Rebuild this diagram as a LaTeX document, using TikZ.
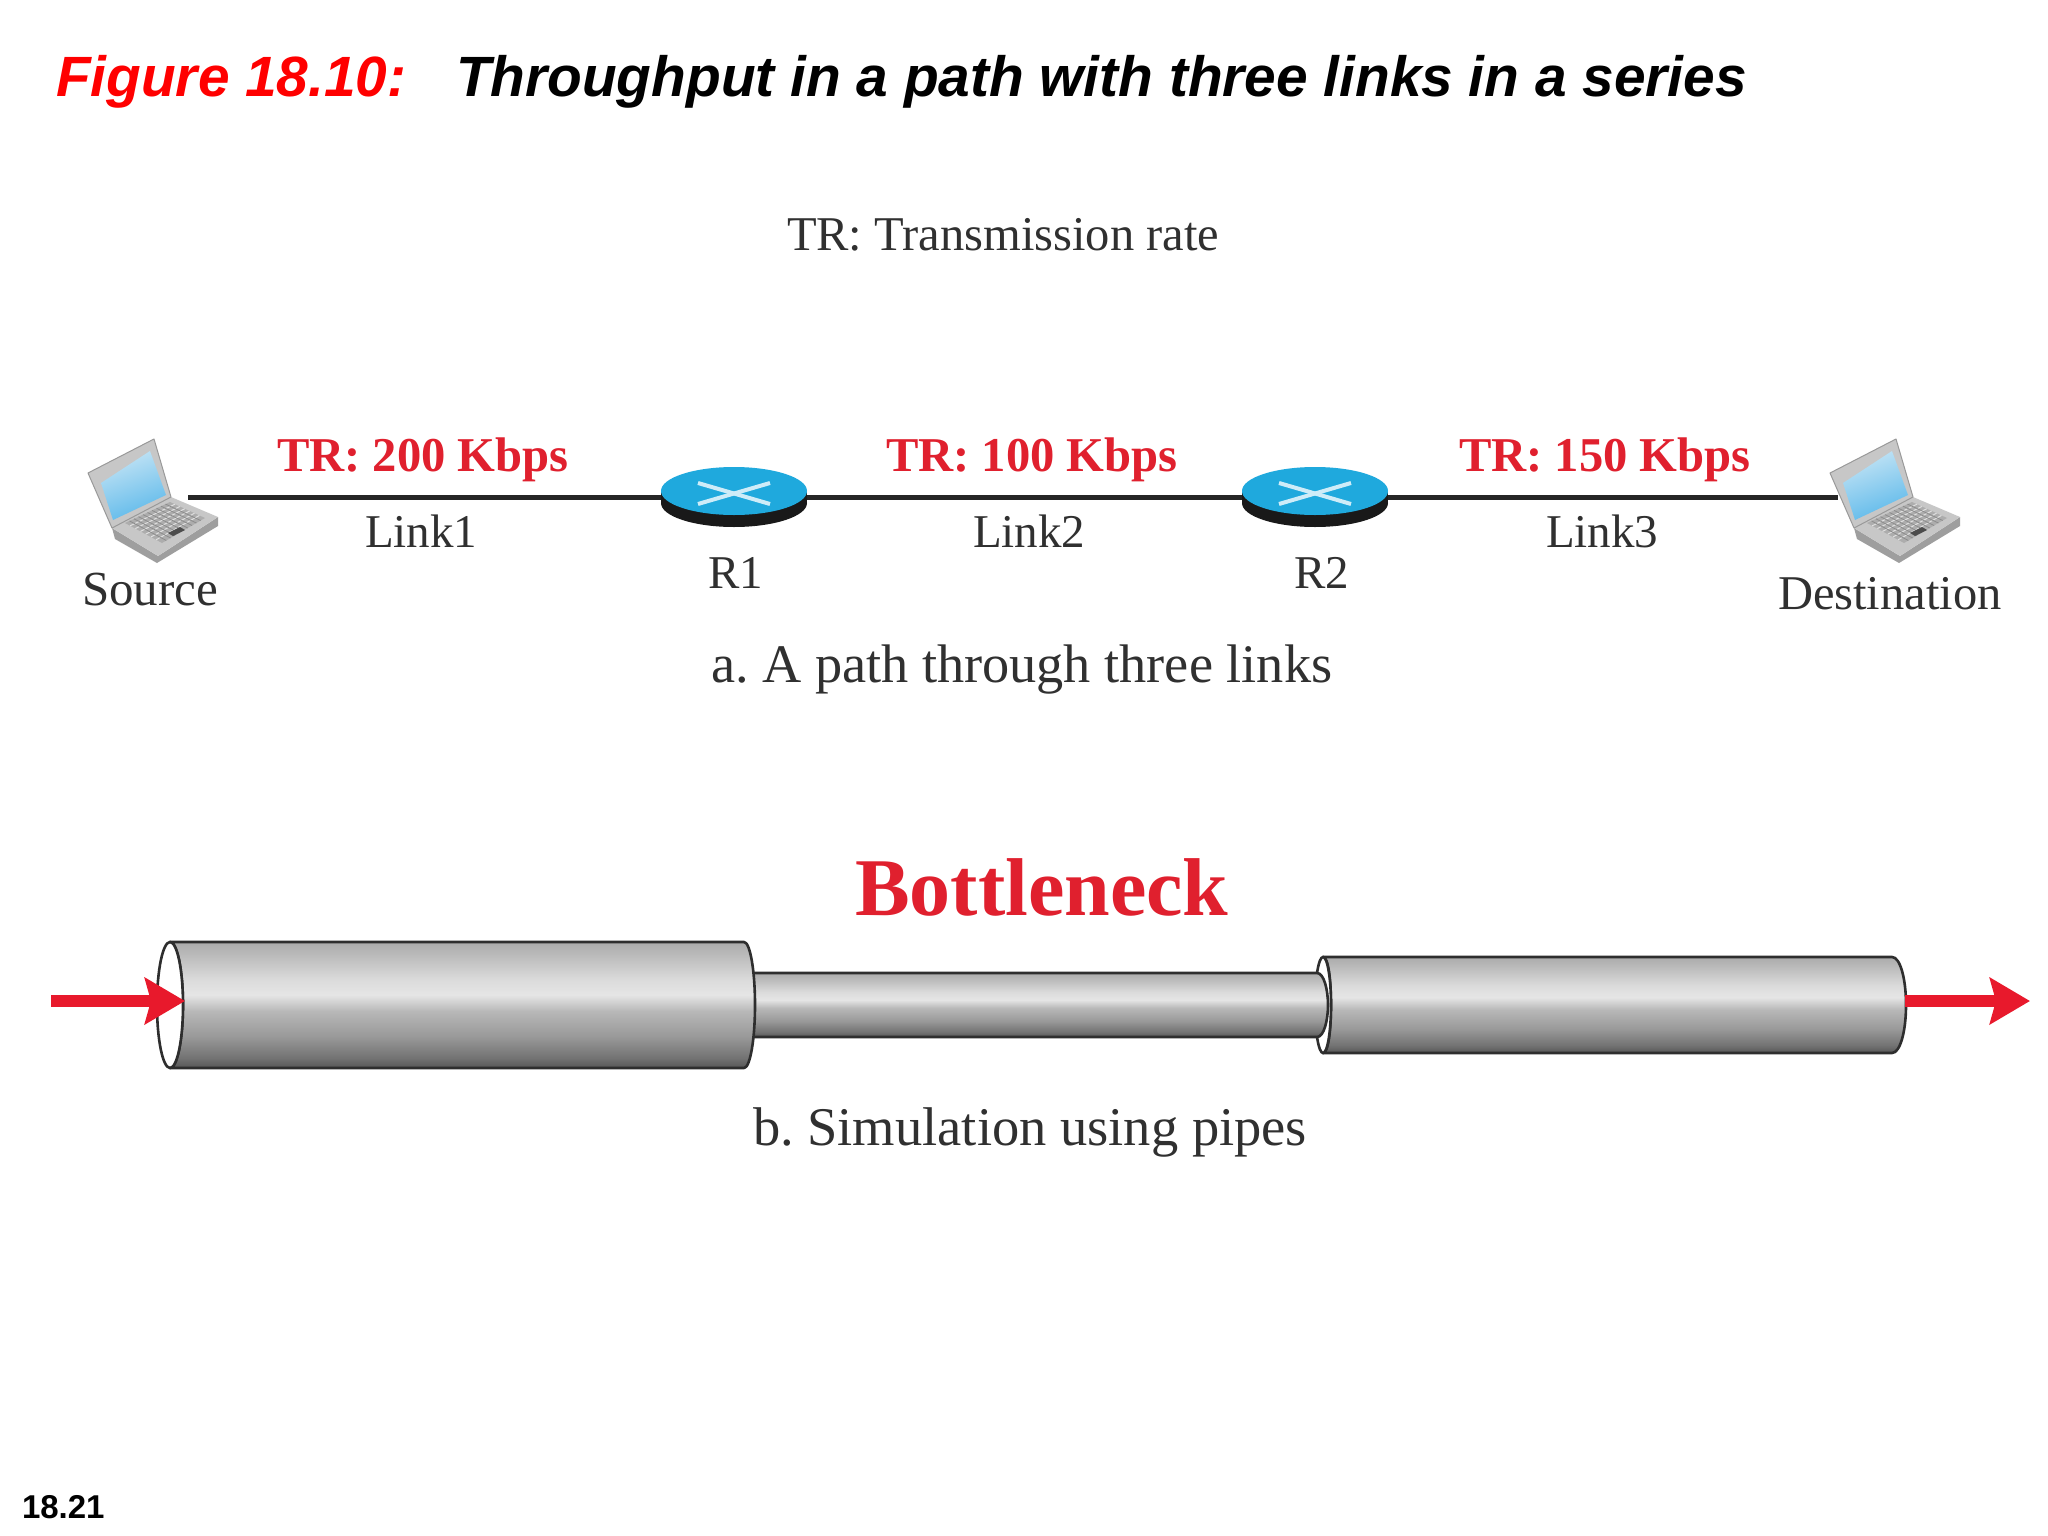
\documentclass[tikz,border=0pt]{standalone}
\usepackage{fontspec}
\setmainfont{Liberation Serif}
\setsansfont{Liberation Sans}
\usetikzlibrary{arrows.meta,shapes.geometric}
\definecolor{figred}{HTML}{E0202E}
\definecolor{titlered}{HTML}{FF0000}
\definecolor{inkgrey}{HTML}{303030}
\definecolor{pipeline}{HTML}{2E2E2E}
\definecolor{arrowred}{HTML}{E8192C}
\definecolor{routerblue}{HTML}{1FA9DD}
\definecolor{screenlight}{HTML}{C4E4F5}
\definecolor{screendeep}{HTML}{5DB9EA}
\pgfdeclareverticalshading{pipeshade}{100bp}{
 color(0bp)=(black!66!white);
 color(25bp)=(black!66!white);
 color(29bp)=(black!55!white);
 color(37.5bp)=(black!40!white);
 color(47.5bp)=(black!28!white);
 color(54bp)=(black!10!white);
 color(60bp)=(black!14!white);
 color(70bp)=(black!27!white);
 color(75bp)=(black!33!white);
 color(100bp)=(black!33!white)}
\tikzset{
 x=1pt,y=-1pt,
 txt/.style={anchor=base west,inner sep=0pt,outer sep=0pt,text=inkgrey},
 ratelabel/.style={txt,text=figred,font=\fontsize{48.6}{51}\selectfont\bfseries},
 linklabel/.style={txt,font=\fontsize{47}{49}\selectfont},
 titletxt/.style={txt,font=\fontsize{56.8}{60}\selectfont\sffamily\bfseries\itshape},
 linkline/.style={draw=black!85,line width=5pt},
 pipe/.style={shading=pipeshade,draw=pipeline,line width=2.6pt,line join=round},
 flow/.style={draw=arrowred,line width=12pt,-{Stealth[length=40pt,width=46pt,inset=6pt]}},
 routertop/.style={ellipse,fill=routerblue,minimum width=146pt,minimum height=48pt,inner sep=0pt},
 routerbase/.style={ellipse,fill=black!90,minimum width=146pt,minimum height=48pt,inner sep=0pt},
 laptop/.pic={
  \fill[black!38] (24,90) -- (27,101) -- (69,125) -- (130,88) -- (130,79) -- (70,118) -- cycle;
  \fill[black!22] (24,90) -- (83,59) -- (130,79) -- (70,118) -- cycle;
  \fill[black!32] (37,85) -- (82,64) -- (117,80) -- (74,105) -- cycle;
  \foreach \t in {0.14,0.28,...,0.9}
   \draw[black!12,line width=1pt] ({37+\t*37},{85+\t*20}) -- ({82+\t*35},{64+\t*16});
  \foreach \t in {0.1,0.2,...,0.95}
   \draw[black!45,line width=.8pt] ({37+\t*45},{85-\t*21}) -- ({74+\t*43},{105-\t*25});
  \fill[black!70] (80,95) -- (92,89) -- (97,92) -- (85,98) -- cycle;
  \fill[black!22,draw=black!40,line width=1pt,line join=round] (0,35) -- (66,1) -- (83,59) -- (24,90) -- cycle;
  \shade[left color=screenlight,right color=screendeep,shading angle=20]
    (13,45) -- (62,13) -- (78,57) -- (25,82) -- cycle;
 },
}
\begin{document}
\frenchspacing
\begin{tikzpicture}
\useasboundingbox (0,0) rectangle (2048,1536);
\fill[white] (0,0) rectangle (2048,1536);

% title
\node[titletxt,text=titlered] (figno) at (56,96.5) {Figure 18.10:};
\node[titletxt,text=black] (figtitle) at (456,96.5) {Throughput in a path with three links in a series};
\node[txt,font=\fontsize{48.5}{50}\selectfont] (legend) at (787,250.5) {TR: Transmission rate};

% part a
\pic at (88,438) {laptop};
\pic at (1830,438) {laptop};
\coordinate (src) at (188,497);
\coordinate (dst) at (1838,497);

\node[routerbase] (r1b) at (734,503) {};
\node[routerbase] (r2b) at (1315,503) {};
\fill[black!90] (r1b.west) rectangle (807,491);
\fill[black!90] (r2b.west) rectangle (1388,491);
\node[routertop] (r1) at (734,491) {};
\node[routertop] (r2) at (1315,491) {};
\draw[linkline] (src) -- (src -| r1.west);
\draw[linkline] (src -| r1.east) -- (src -| r2.west);
\draw[linkline] (src -| r2.east) -- (dst);
\foreach \c in {r1,r2}{
 \draw[white!78!routerblue,line width=4pt] ([shift={(-36,-8)}]\c.center) -- ([shift={(36,13)}]\c.center);
 \draw[white!78!routerblue,line width=4pt] ([shift={(-36,13)}]\c.center) -- ([shift={(36,-8)}]\c.center);
}

\node[ratelabel] (t1) at (277,471) {TR: 200 Kbps};
\node[ratelabel] (t2) at (886,471) {TR: 100 Kbps};
\node[ratelabel] (t3) at (1459,471) {TR: 150 Kbps};
\node[linklabel] (l1) at (365,547) {Link1};
\node[linklabel] (l2) at (973,547) {Link2};
\node[linklabel] (l3) at (1546,547) {Link3};
\node[linklabel] (n1) at (708,588) {R1};
\node[linklabel] (n2) at (1294,588) {R2};
\node[txt,font=\fontsize{49}{51}\selectfont] (srcl) at (82,605) {Source};
\node[txt,font=\fontsize{48.5}{50}\selectfont] (dstl) at (1778,609) {Destination};
\node[txt,font=\fontsize{54.3}{56}\selectfont] (capa) at (711,682) {a. A path through three links};

% part b
\node[txt,text=figred,font=\fontsize{82}{84}\selectfont\bfseries] (bn) at (855,915) {Bottleneck};

% pipe 3
\path[pipe] (1323,957) -- (1892,957)
  .. controls (1900,957) and (1906,978) .. (1906,1005)
  .. controls (1906,1032) and (1900,1053) .. (1892,1053)
  -- (1323,1053)
  .. controls (1328,1053) and (1331,1032) .. (1331,1005)
  .. controls (1331,978) and (1328,957) .. (1323,957) -- cycle;
\node[ellipse,draw=pipeline,fill=white,line width=2.6pt,minimum width=16pt,minimum height=96pt,inner sep=0pt] (ring) at (1323,1005) {};
% pipe 2
\path[pipe] (745,973) -- (1317,973)
  .. controls (1324,973) and (1328,990) .. (1328,1005)
  .. controls (1328,1020) and (1324,1037) .. (1317,1037)
  -- (745,1037) -- cycle;
% pipe 1
\path[pipe] (170,942) -- (744,942)
  .. controls (750,942) and (755,970) .. (755,1005)
  .. controls (755,1040) and (750,1068) .. (744,1068)
  -- (170,1068)
  .. controls (177,1068) and (183,1040) .. (183,1005)
  .. controls (183,970) and (177,942) .. (170,942) -- cycle;
\node[ellipse,draw=pipeline,fill=white,line width=2.6pt,minimum width=26pt,minimum height=126pt,inner sep=0pt] (mouth) at (170,1005) {};

\coordinate (inA) at (51,1001);
\coordinate (inB) at (185,1001);
\coordinate (outA) at (1905,1001);
\coordinate (outB) at (2030,1001);
\draw[flow] (inA) -- (inB);
\draw[flow] (outA) -- (outB);

\node[txt,font=\fontsize{54.5}{56}\selectfont] (capb) at (753,1145) {b. Simulation using pipes};
\node[txt,text=black,font=\fontsize{33}{35}\selectfont\sffamily\bfseries] (pg) at (22,1518) {18.21};
\end{tikzpicture}
\end{document}
